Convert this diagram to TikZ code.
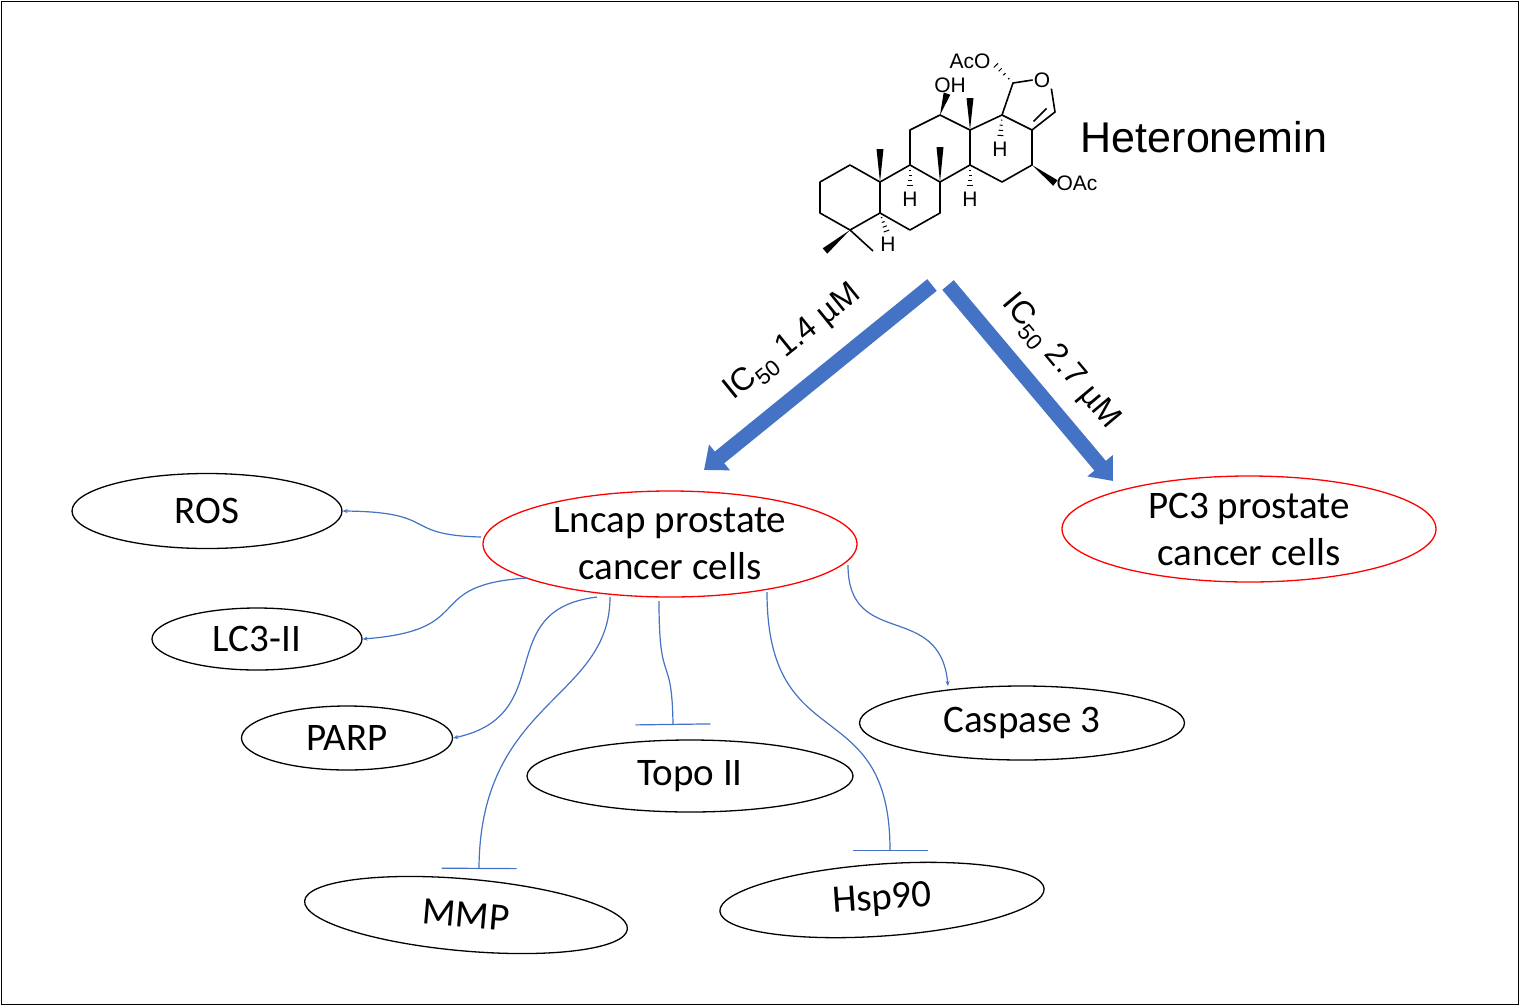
\documentclass[tikz,border=0pt]{standalone}
\usepackage{fontspec}
\setmainfont{Carlito}
\newfontfamily\arial{Liberation Sans}
\usetikzlibrary{calc,arrows.meta,shapes.geometric}
\definecolor{ublue}{HTML}{4472C4}
\begin{document}
\begin{tikzpicture}[x=1pt,y=-1pt,
  ell/.style={draw=black,line width=1.3pt,ellipse,minimum width=#1},
  cell/.style={draw=red,line width=1.3pt,ellipse},
  lbl/.style={font=\fontsize{39}{47}\selectfont,align=center},
  link/.style={ublue,line width=1.2pt},
  act/.style={link,-{Stealth[length=5pt,width=4pt]}},
  inh/.style={link,-{Bar[width=75pt,line width=1.2pt]}},
  big/.style={ublue,line width=15pt,-{Triangle[length=20pt,width=32pt]}},
  bond/.style={line width=1.6pt},
  atom/.style={font=\arial\fontsize{21}{21}\selectfont,inner sep=1pt}]
\useasboundingbox (0,0) rectangle (1519,1005);
\draw[line width=1pt] (1,1) rectangle (1518,1004);
% ---- molecule
\coordinate (a1) at (850,165); \coordinate (a2) at (820,182);
\coordinate (a3) at (820,213); \coordinate (a4) at (850,230);
\coordinate (a5) at (880,213); \coordinate (a6) at (880,182);
\coordinate (b1) at (910,165); \coordinate (b2) at (940,182);
\coordinate (b3) at (940,213); \coordinate (b4) at (910,230);
\coordinate (c1) at (910,130); \coordinate (c2) at (940,115);
\coordinate (c3) at (970,130); \coordinate (c4) at (970,165);
\coordinate (d1) at (1002,115); \coordinate (d2) at (1032,130);
\coordinate (d3) at (1032,165); \coordinate (d4) at (1002,182);
\coordinate (e1) at (1013,83); \coordinate (e3) at (1055,112);
\node[atom] (O) at (1042,80) {O};
\node[atom] (OH) at (950,85) {OH};
\node[atom] (AcO) at (970,61) {AcO};
\node[atom] (OAc) at (1077,183) {OAc};
\node[atom] (H1) at (888,244) {H};
\node[atom] (H2) at (910,199) {H};
\node[atom] (H3) at (970,199) {H};
\node[atom] (H4) at (1000,149) {H};
\draw[bond,line join=round] (a1)--(a2)--(a3)--(a4)--(a5)--(a6)--cycle;
\draw[bond,line join=round] (a6)--(b1)--(b2)--(b3)--(b4)--(a5);
\draw[bond,line join=round] (b1)--(c1)--(c2)--(c3)--(c4)--(b2);
\draw[bond,line join=round] (c3)--(d1)--(d2)--(d3)--(d4)--(c4);
\draw[bond] (d1)--(e1)--(O.west) (O.south east)--(e3)--(d2);
\draw[bond] ($(d2)!0.2!(e3)$) ++(-3,-5) -- ++(13,-13);
\draw[bond] (a4) -- (873,251);
% wedges
\coordinate (w1) at (880,149); \coordinate (w2) at (940,147);
\coordinate (w3) at (970,98); \coordinate (w4) at ($(OH.south)+(-3,0)$);
\coordinate (w5) at (OAc.west); \coordinate (w6) at (825,251);
\foreach \s/\t in {a6/w1,b2/w2,c3/w3,c2/w4,d3/w5,a4/w6}{
  \fill (\s) -- ($(\t)!3.5pt!90:(\s)$) -- ($(\t)!3.5pt!-90:(\s)$) -- cycle;}
% hashes
\coordinate (x1) at (H1.north); \coordinate (x2) at (H2.north);
\coordinate (x3) at (H3.north); \coordinate (x4) at (H4.north);
\coordinate (x5) at (AcO.east);
\foreach \s/\t in {a5/x1,b1/x2,c4/x3,d1/x4,e1/x5}{
  \foreach \f/\w in {0.2/0.8,0.4/1.5,0.6/2.2,0.8/2.9,1.0/3.6}{
   \coordinate (hp) at ($(\s)!\f!(\t)$);
   \draw[line width=1pt] ($(hp)!\w pt!90:(\t)$) -- ($(hp)!\w pt!-90:(\t)$);}}
\node[font=\arial\fontsize{43}{43}\selectfont] (het) at (1204,137) {Heteronemin};
% ---- cells
\node[cell,minimum width=374,minimum height=106] (ln) at (670,544) {};
\node[lbl] at (670,544) {Lncap prostate\\cancer cells};
\node[cell,minimum width=374,minimum height=106] (pc) at (1249,529) {};
\node[lbl] at (1249,529) {PC3 prostate\\cancer cells};
\coordinate (s) at (932,285); \coordinate (s2) at (948,285);
\draw[big] (s) -- (704,470);
\draw[big] (s2) -- (1113,481);
\node[font=\arial\fontsize{32}{32}\selectfont,rotate=39] (ic1) at (793,343) {IC\textsubscript{50} 1.4 µM};
\node[font=\arial\fontsize{32}{32}\selectfont,rotate=-50] (ic2) at (1060,362) {IC\textsubscript{50} 2.7 µM};
% ---- targets
\node[ell,minimum width=270,minimum height=75,lbl] (ros) at (207,511) {ROS};
\node[ell,minimum width=210,minimum height=62,lbl] (lc3) at (257,639) {LC3-II};
\node[ell,minimum width=211,minimum height=64,lbl] (parp) at (347,738) {PARP};
\node[ell,minimum width=326,minimum height=72,lbl] (topo) at (690,776) {Topo II};
\node[ell,minimum width=325,minimum height=74,lbl] (casp) at (1022,723) {Caspase 3};
\node[ell,minimum width=324,minimum height=72,lbl,rotate=-5] (mmp) at (466,915) {MMP};
\node[ell,minimum width=325,minimum height=72,lbl,rotate=4] (hsp) at (882,900) {Hsp90};
\coordinate (r0) at (481,537); \coordinate (l0) at (527,578);
\coordinate (p0) at (597,597); \coordinate (m0) at (610,597);
\coordinate (t0) at (659,601); \coordinate (h0) at (767,592);
\coordinate (k0) at (848,565);
\coordinate (mb) at (479,869); \coordinate (tb) at (673,725); \coordinate (hb) at (890,851);
\draw[act] (r0) .. controls (400,535) and (440,512) .. (ros.east);
\draw[act] (l0) .. controls (420,585) and (480,630) .. (lc3.east);
\draw[act] (p0) .. controls (490,610) and (560,715) .. (parp.east);
\draw[inh] (m0) .. controls (610,700) and (480,700) .. (mb);
\draw[inh] (t0) .. controls (659,690) and (672,650) .. (tb);
\draw[inh] (h0) .. controls (767,760) and (890,690) .. (hb);
\draw[act] (k0) .. controls (848,650) and (940,600) .. (948,686);
\end{tikzpicture}
\end{document}
